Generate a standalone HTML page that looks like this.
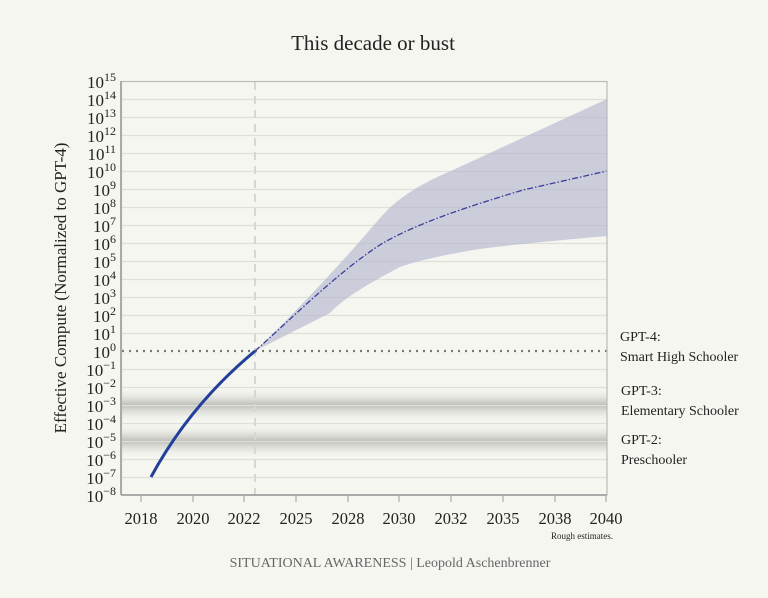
<!DOCTYPE html>
<html><head><style>
body{margin:0;background:#f6f6f1;}
text{font-family:"Liberation Serif",serif;fill:#222;}
</style></head><body>
<svg width="768" height="593" viewBox="0 0 768 593" xmlns="http://www.w3.org/2000/svg">
<defs>
<linearGradient id="gb" x1="0" y1="0" x2="0" y2="1">
<stop offset="0" stop-color="#f6f6f1" stop-opacity="0"/>
<stop offset="0.5" stop-color="#bdbdb9"/>
<stop offset="1" stop-color="#f6f6f1" stop-opacity="0"/>
</linearGradient>
</defs>
<rect width="768" height="593" fill="#f6f6f1"/>
<text x="373" y="50" font-size="21" text-anchor="middle">This decade or bust</text>
<rect x="122" y="387" width="485" height="36" fill="url(#gb)"/>
<rect x="122" y="423" width="485" height="36" fill="url(#gb)"/>
<g stroke="#e0e0da" stroke-width="1.2">
<line x1="122" x2="607" y1="99.5" y2="99.5"/><line x1="122" x2="607" y1="117.5" y2="117.5"/><line x1="122" x2="607" y1="135.5" y2="135.5"/><line x1="122" x2="607" y1="153.5" y2="153.5"/><line x1="122" x2="607" y1="171.5" y2="171.5"/><line x1="122" x2="607" y1="189.5" y2="189.5"/><line x1="122" x2="607" y1="207.5" y2="207.5"/><line x1="122" x2="607" y1="225.5" y2="225.5"/><line x1="122" x2="607" y1="243.5" y2="243.5"/><line x1="122" x2="607" y1="261.5" y2="261.5"/><line x1="122" x2="607" y1="279.5" y2="279.5"/><line x1="122" x2="607" y1="297.5" y2="297.5"/><line x1="122" x2="607" y1="315.5" y2="315.5"/><line x1="122" x2="607" y1="333.5" y2="333.5"/><line x1="122" x2="607" y1="369.5" y2="369.5"/><line x1="122" x2="607" y1="387.5" y2="387.5"/><line x1="122" x2="607" y1="405.5" y2="405.5"/><line x1="122" x2="607" y1="423.5" y2="423.5"/><line x1="122" x2="607" y1="441.5" y2="441.5"/><line x1="122" x2="607" y1="459.5" y2="459.5"/><line x1="122" x2="607" y1="477.5" y2="477.5"/>
</g>
<path d="M255,351 C290,318 340,265 380,218 C400,195 425,182 453,170 L607,99 L607,236 C540,242 500,246 473,250 C440,256 420,260 400,267 C370,283 345,297 330,313 Z" fill="#b5b7d0" fill-opacity="0.65"/>
<line x1="255" y1="82" x2="255" y2="495" stroke="#d6d6d2" stroke-width="2" stroke-dasharray="8,6"/>
<line x1="122" y1="351" x2="607" y2="351" stroke="#777" stroke-width="2.2" stroke-dasharray="2,5"/>
<path d="M255,351 C290,320 340,270 383,243 C420,222 470,206 523,190 L607,171" fill="none" stroke="#3a3e9a" stroke-width="1.3" stroke-dasharray="6,2,1.5,2"/>
<path d="M151,477 Q190,405 255,351" fill="none" stroke="#22409a" stroke-width="3"/>
<rect x="121.5" y="81.5" width="485.5" height="413.5" fill="none" stroke="#bbb" stroke-width="1.2"/>
<line x1="121" y1="81" x2="121" y2="495" stroke="#aaa" stroke-width="2"/>
<line x1="121" y1="495" x2="607" y2="495" stroke="#aaa" stroke-width="2"/>
<g stroke="#aaa" stroke-width="1.2">
<line x1="141" x2="141" y1="496" y2="502"/><line x1="193" x2="193" y1="496" y2="502"/><line x1="244" x2="244" y1="496" y2="502"/><line x1="296" x2="296" y1="496" y2="502"/><line x1="348" x2="348" y1="496" y2="502"/><line x1="399" x2="399" y1="496" y2="502"/><line x1="451" x2="451" y1="496" y2="502"/><line x1="503" x2="503" y1="496" y2="502"/><line x1="555" x2="555" y1="496" y2="502"/><line x1="606" x2="606" y1="496" y2="502"/>
</g>
<g font-size="16.5" text-anchor="middle">
<text x="141" y="524">2018</text><text x="193" y="524">2020</text><text x="244" y="524">2022</text><text x="296" y="524">2025</text><text x="348" y="524">2028</text><text x="399" y="524">2030</text><text x="451" y="524">2032</text><text x="503" y="524">2035</text><text x="555" y="524">2038</text><text x="606" y="524">2040</text>
</g>
<g font-size="17" text-anchor="end">
<text x="116" y="88">10<tspan font-size="12" dy="-7">15</tspan></text>
<text x="116" y="106">10<tspan font-size="12" dy="-7">14</tspan></text>
<text x="116" y="124">10<tspan font-size="12" dy="-7">13</tspan></text>
<text x="116" y="142">10<tspan font-size="12" dy="-7">12</tspan></text>
<text x="116" y="160">10<tspan font-size="12" dy="-7">11</tspan></text>
<text x="116" y="178">10<tspan font-size="12" dy="-7">10</tspan></text>
<text x="116" y="196">10<tspan font-size="12" dy="-7">9</tspan></text>
<text x="116" y="214">10<tspan font-size="12" dy="-7">8</tspan></text>
<text x="116" y="232">10<tspan font-size="12" dy="-7">7</tspan></text>
<text x="116" y="250">10<tspan font-size="12" dy="-7">6</tspan></text>
<text x="116" y="268">10<tspan font-size="12" dy="-7">5</tspan></text>
<text x="116" y="286">10<tspan font-size="12" dy="-7">4</tspan></text>
<text x="116" y="304">10<tspan font-size="12" dy="-7">3</tspan></text>
<text x="116" y="322">10<tspan font-size="12" dy="-7">2</tspan></text>
<text x="116" y="340">10<tspan font-size="12" dy="-7">1</tspan></text>
<text x="116" y="358">10<tspan font-size="12" dy="-7">0</tspan></text>
<text x="116" y="376">10<tspan font-size="12" dy="-7">−1</tspan></text>
<text x="116" y="394">10<tspan font-size="12" dy="-7">−2</tspan></text>
<text x="116" y="412">10<tspan font-size="12" dy="-7">−3</tspan></text>
<text x="116" y="430">10<tspan font-size="12" dy="-7">−4</tspan></text>
<text x="116" y="448">10<tspan font-size="12" dy="-7">−5</tspan></text>
<text x="116" y="466">10<tspan font-size="12" dy="-7">−6</tspan></text>
<text x="116" y="484">10<tspan font-size="12" dy="-7">−7</tspan></text>
<text x="116" y="502">10<tspan font-size="12" dy="-7">−8</tspan></text>
</g>
<text transform="translate(66,288) rotate(-90)" font-size="17" text-anchor="middle">Effective Compute (Normalized to GPT-4)</text>
<g font-size="14">
<text x="620" y="341">GPT-4:</text><text x="620" y="361">Smart High Schooler</text>
<text x="621" y="395">GPT-3:</text><text x="621" y="415">Elementary Schooler</text>
<text x="621" y="444">GPT-2:</text><text x="621" y="464">Preschooler</text>
</g>
<text x="613" y="539" font-size="9" text-anchor="end" fill="#666">Rough estimates.</text>
<text x="390" y="567" font-size="14" text-anchor="middle" style="fill:#666">SITUATIONAL AWARENESS | Leopold Aschenbrenner</text>
</svg>
</body></html>
